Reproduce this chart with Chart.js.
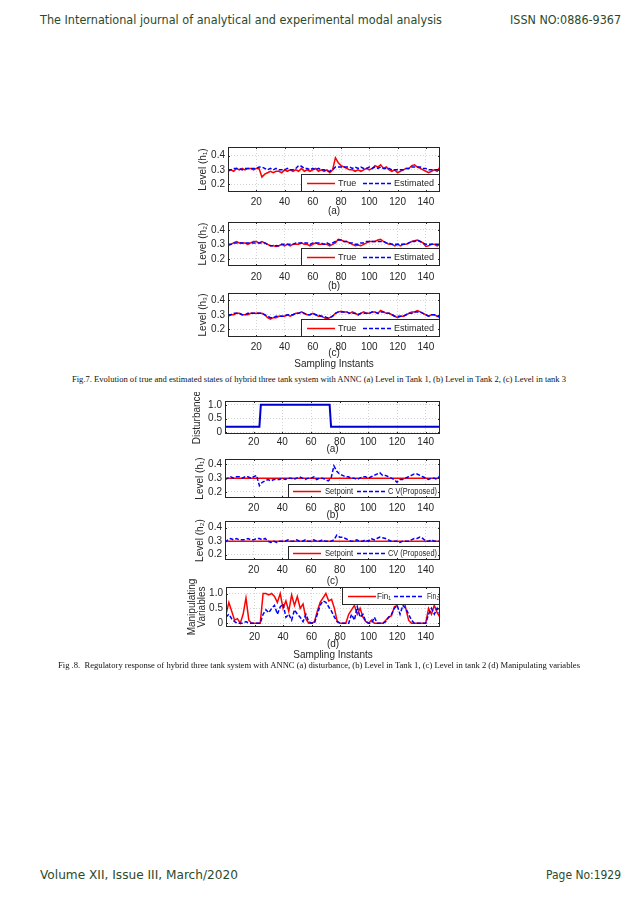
<!DOCTYPE html>
<html>
<head>
<meta charset="utf-8">
<script src="https://cdn.jsdelivr.net/npm/chart.js@4.4.0/dist/chart.umd.min.js"></script>
<style>
  body { margin: 0; background: #fff; }
  #page { position: relative; width: 638px; height: 902px; overflow: hidden; background: #fff; }
  .hdr { position: absolute; font-family: "DejaVu Sans", "Liberation Sans", sans-serif; font-size: 11.5px; color: #2b4a2b; white-space: nowrap; line-height: 1; transform-origin: 0 50%; }
  .cap { position: absolute; font-family: "Liberation Serif", "Times New Roman", serif; font-size: 9px; color: #111; white-space: nowrap; line-height: 1; transform-origin: 0 50%; }
  canvas { position: absolute; left: 150px; }
</style>
</head>
<body>
<div id="page">
  <div class="hdr" data-w="402" style="left:40px;top:15px">The International journal of analytical and experimental modal analysis</div>
  <div class="hdr" data-w="111" style="left:510px;top:15px">ISSN NO:0886-9367</div>

  <canvas id="f7a" width="300" height="80"></canvas>
  <canvas id="f7b" width="300" height="80"></canvas>
  <canvas id="f7c" width="300" height="90"></canvas>
  <div class="cap" data-w="494" style="left:72px;top:375px">Fig.7. Evolution of true and estimated states of hybrid three tank system with ANNC (a) Level in Tank 1, (b) Level in Tank 2, (c) Level in tank 3</div>

  <canvas id="f8a" width="300" height="70"></canvas>
  <canvas id="f8b" width="300" height="80"></canvas>
  <canvas id="f8c" width="300" height="80"></canvas>
  <canvas id="f8d" width="300" height="90"></canvas>
  <div class="cap" data-w="522" style="left:58px;top:661px">Fig .8.&nbsp; Regulatory response of hybrid three tank system with ANNC (a) disturbance, (b) Level in Tank 1, (c) Level in tank 2 (d) Manipulating variables</div>

  <div class="hdr" data-w="198" style="left:40px;top:870px">Volume XII, Issue III, March/2020</div>
  <div class="hdr" data-w="75" style="left:546px;top:870px">Page No:1929</div>
</div>
<script>
// sampling instants (every second sample)
var instants = [0,2,4,6,8,10,12,14,16,18,20,22,24,26,28,30,32,34,36,38,40,42,44,46,48,50,52,54,56,58,
  60,62,64,66,68,70,72,74,76,78,80,82,84,86,88,90,92,94,96,98,100,102,104,106,108,110,112,114,116,118,
  120,122,124,126,128,130,132,134,136,138,140,142,144,146,148,150];
var xTicks = [20,40,60,80,100,120,140];
var levelTicks = [0.2,0.3,0.4];
var unitTicks = [0,0.5,1];

// Fig.7 true / estimated levels
var h1True = [0.29,0.30,0.29,0.31,0.30,0.31,0.30,0.31,0.31,0.30,
  0.31,0.31,0.25,0.27,0.28,0.29,0.28,0.29,0.29,0.28,
  0.30,0.29,0.30,0.29,0.30,0.29,0.31,0.29,0.30,0.29,
  0.30,0.31,0.29,0.30,0.29,0.30,0.28,0.30,0.385,0.35,
  0.33,0.32,0.31,0.30,0.30,0.29,0.30,0.29,0.30,0.31,
  0.30,0.31,0.33,0.32,0.335,0.31,0.32,0.30,0.29,0.30,
  0.28,0.29,0.30,0.31,0.31,0.33,0.335,0.32,0.31,0.30,
  0.29,0.28,0.29,0.30,0.29,0.32];
var h1Est = [0.30,0.30,0.31,0.31,0.31,0.30,0.31,0.31,0.31,0.31,
  0.31,0.32,0.32,0.31,0.30,0.31,0.30,0.31,0.30,0.30,
  0.30,0.31,0.30,0.30,0.31,0.33,0.325,0.31,0.31,0.30,
  0.31,0.30,0.31,0.30,0.30,0.29,0.29,0.30,0.32,0.32,
  0.32,0.32,0.32,0.32,0.31,0.32,0.31,0.32,0.31,0.31,
  0.32,0.31,0.32,0.31,0.32,0.31,0.31,0.31,0.30,0.30,
  0.30,0.30,0.30,0.31,0.31,0.32,0.32,0.32,0.32,0.31,
  0.31,0.30,0.30,0.30,0.30,0.30];
var h2True = [0.29,0.30,0.31,0.32,0.31,0.31,0.31,0.30,0.31,0.32,
  0.32,0.31,0.32,0.31,0.30,0.29,0.29,0.285,0.29,0.30,
  0.29,0.30,0.29,0.30,0.30,0.30,0.31,0.30,0.30,0.29,
  0.30,0.31,0.30,0.30,0.30,0.30,0.29,0.30,0.31,0.335,
  0.33,0.32,0.32,0.31,0.30,0.29,0.295,0.29,0.30,0.31,
  0.32,0.32,0.32,0.33,0.335,0.32,0.31,0.30,0.30,0.29,
  0.30,0.29,0.30,0.30,0.31,0.32,0.325,0.33,0.32,0.31,
  0.285,0.29,0.30,0.30,0.29,0.30];
var h2Est = [0.30,0.30,0.31,0.31,0.31,0.31,0.31,0.31,0.31,0.31,
  0.31,0.31,0.31,0.31,0.30,0.29,0.29,0.29,0.29,0.30,
  0.30,0.30,0.30,0.30,0.31,0.31,0.31,0.31,0.31,0.30,
  0.31,0.31,0.31,0.31,0.30,0.31,0.30,0.31,0.32,0.33,
  0.33,0.32,0.32,0.31,0.31,0.30,0.30,0.31,0.31,0.32,
  0.32,0.32,0.32,0.32,0.32,0.32,0.31,0.31,0.30,0.30,
  0.30,0.30,0.30,0.30,0.31,0.32,0.32,0.33,0.32,0.31,
  0.30,0.30,0.30,0.30,0.30,0.30];
var h3True = [0.29,0.30,0.30,0.31,0.31,0.30,0.30,0.30,0.31,0.31,
  0.31,0.31,0.31,0.30,0.28,0.27,0.28,0.28,0.29,0.29,
  0.29,0.30,0.29,0.30,0.31,0.31,0.32,0.31,0.30,0.30,
  0.31,0.30,0.29,0.29,0.28,0.27,0.28,0.29,0.31,0.32,
  0.325,0.32,0.32,0.31,0.32,0.31,0.30,0.31,0.32,0.31,
  0.31,0.32,0.32,0.31,0.33,0.32,0.31,0.31,0.30,0.29,
  0.28,0.29,0.29,0.30,0.31,0.32,0.32,0.33,0.32,0.31,
  0.30,0.29,0.30,0.30,0.29,0.28];
var h3Est = [0.30,0.30,0.31,0.31,0.31,0.30,0.30,0.31,0.31,0.31,
  0.31,0.31,0.31,0.30,0.29,0.28,0.28,0.29,0.29,0.29,
  0.29,0.30,0.30,0.30,0.31,0.31,0.32,0.31,0.30,0.30,
  0.31,0.30,0.30,0.29,0.29,0.28,0.28,0.29,0.31,0.32,
  0.32,0.32,0.32,0.31,0.31,0.31,0.30,0.31,0.31,0.31,
  0.31,0.32,0.32,0.31,0.32,0.32,0.31,0.31,0.30,0.29,
  0.29,0.29,0.29,0.30,0.31,0.31,0.32,0.32,0.32,0.31,
  0.30,0.29,0.30,0.30,0.29,0.29];

// Fig.8 regulatory response
var distT = [0,24,25,73,74,150];
var distV = [0.2,0.2,1,1,0.2,0.2];
var spT = [0,150];
var spV = [0.3,0.3];
var cvH1 = [0.29,0.30,0.31,0.30,0.31,0.31,0.30,0.31,0.31,0.30,
  0.31,0.32,0.245,0.27,0.28,0.29,0.28,0.29,0.29,0.29,
  0.30,0.29,0.30,0.30,0.29,0.30,0.31,0.30,0.29,0.30,
  0.30,0.31,0.29,0.30,0.30,0.29,0.28,0.30,0.39,0.35,
  0.33,0.32,0.31,0.31,0.30,0.30,0.29,0.30,0.31,0.31,
  0.30,0.31,0.32,0.33,0.34,0.32,0.32,0.31,0.30,0.29,
  0.27,0.29,0.29,0.30,0.31,0.32,0.33,0.33,0.32,0.31,
  0.30,0.29,0.30,0.30,0.29,0.32];
var cvH2 = [0.29,0.31,0.32,0.31,0.32,0.31,0.31,0.31,0.32,0.31,
  0.31,0.32,0.32,0.31,0.32,0.30,0.29,0.30,0.29,0.30,
  0.30,0.30,0.31,0.30,0.30,0.31,0.30,0.30,0.31,0.30,
  0.30,0.31,0.30,0.30,0.31,0.30,0.30,0.30,0.31,0.345,
  0.33,0.33,0.32,0.31,0.30,0.30,0.31,0.30,0.30,0.31,
  0.30,0.32,0.31,0.32,0.33,0.325,0.32,0.31,0.30,0.30,
  0.30,0.29,0.30,0.30,0.30,0.31,0.32,0.32,0.33,0.32,
  0.30,0.30,0.31,0.30,0.30,0.30];
var fin1 = [0.30,0.70,0.40,0.10,0.15,0.00,0.30,0.85,0.10,0.00,
  0.00,0.00,0.00,1.00,1.00,0.95,1.00,0.90,0.70,1.00,
  0.50,0.75,0.40,0.95,0.60,0.90,0.50,0.65,0.15,0.00,
  0.00,0.05,0.40,0.70,0.85,1.00,0.75,0.80,0.50,0.05,
  0.00,0.00,0.00,0.30,0.45,0.60,0.30,0.50,0.20,0.05,
  0.00,0.10,0.00,0.00,0.00,0.00,0.10,0.20,0.25,0.55,
  0.60,0.95,0.95,0.50,0.10,0.00,0.00,0.00,0.00,0.00,
  0.00,0.50,0.30,0.60,0.35,0.20];
var fin2 = [0.20,0.30,0.15,0.05,0.00,0.00,0.00,0.05,0.00,0.00,
  0.00,0.00,0.00,0.30,0.45,0.35,0.50,0.60,0.30,0.55,
  0.65,0.20,0.30,0.10,0.45,0.30,0.20,0.05,0.30,0.05,
  0.00,0.00,0.30,0.60,0.75,0.70,0.55,0.40,0.20,0.05,
  0.00,0.00,0.00,0.00,0.30,0.10,0.55,0.20,0.30,0.05,
  0.00,0.00,0.20,0.00,0.00,0.00,0.05,0.20,0.30,0.50,
  0.60,0.30,0.60,0.50,0.30,0.10,0.00,0.00,0.00,0.00,
  0.00,0.30,0.50,0.30,0.50,0.30];

var RED = '#ff0000', BLUE = '#0000ff', INK = '#262626';
var FONT = '"Liberation Sans", Arial, sans-serif';
Chart.defaults.font.family = FONT;
Chart.defaults.font.size = 10;
Chart.defaults.color = INK;

// squeeze page texts to the widths they have in the scanned page
document.querySelectorAll('[data-w]').forEach(function (el) {
  var w = el.getBoundingClientRect().width;
  el.style.transform = 'scaleX(' + (parseFloat(el.dataset.w) / w) + ')';
});

function pts(xs, ys) { return xs.map(function (x, i) { return { x: x, y: ys[i] }; }); }

// legend box drawn inside the axes (MATLAB style)
var boxLegend = {
  id: 'boxLegend',
  afterDatasetsDraw: function (chart, args, o) {
    if (!o.items) return;
    var ctx = chart.ctx, a = chart.chartArea;
    var x = a.right - o.width, y = o.top ? a.top : a.bottom - o.height;
    ctx.save();
    ctx.fillStyle = '#fff';
    ctx.fillRect(x, y, o.width, o.height);
    ctx.strokeStyle = INK; ctx.lineWidth = 1;
    ctx.strokeRect(Math.round(x) + 0.5, Math.round(y) + 0.5, o.width - 1, o.height - 1);
    ctx.font = (o.size || 9) + 'px ' + FONT;
    ctx.textBaseline = 'middle';
    var cy = Math.round(y + o.height / 2) + 0.5;
    chart.data.datasets.forEach(function (ds, i) {
      var it = o.items[i];
      ctx.strokeStyle = ds.borderColor; ctx.lineWidth = ds.borderWidth;
      ctx.setLineDash(ds.borderDash || []);
      ctx.beginPath(); ctx.moveTo(x + it.line, cy); ctx.lineTo(x + it.line + 28, cy); ctx.stroke();
      ctx.setLineDash([]);
      ctx.fillStyle = INK;
      ctx.fillText(ds.label, x + it.text, cy, it.max);
    });
    ctx.restore();
  }
};

// axes box with inward tick marks
var frame = {
  id: 'frame',
  afterDraw: function (chart) {
    var ctx = chart.ctx, a = chart.chartArea, sx = chart.scales.x, sy = chart.scales.y;
    ctx.save();
    ctx.strokeStyle = INK; ctx.lineWidth = 1;
    ctx.strokeRect(Math.round(a.left) + 0.5, Math.round(a.top) + 0.5, Math.round(a.width) - 1, Math.round(a.height) - 1);
    ctx.beginPath();
    sx.ticks.forEach(function (t) {
      var p = Math.round(sx.getPixelForValue(t.value)) + 0.5;
      ctx.moveTo(p, a.top); ctx.lineTo(p, a.top + 2);
      ctx.moveTo(p, a.bottom); ctx.lineTo(p, a.bottom - 2);
    });
    sy.ticks.forEach(function (t) {
      var p = Math.round(sy.getPixelForValue(t.value)) + 0.5;
      ctx.moveTo(a.left, p); ctx.lineTo(a.left + 2, p);
      ctx.moveTo(a.right, p); ctx.lineTo(a.right - 2, p);
    });
    ctx.stroke();
    ctx.restore();
  }
};

function plot(id, p) {
  var cv = document.getElementById(id);
  var padTop = 8;
  cv.style.top = (p.top - padTop) + 'px';
  cv.height = padTop + p.h + p.xH + 2;
  return new Chart(cv, {
    type: 'line',
    data: { datasets: p.datasets },
    options: {
      responsive: false,
      animation: false,
      devicePixelRatio: 1,
      layout: { padding: { top: padTop, right: 10, left: 0, bottom: 2 } },
      elements: { point: { radius: 0 }, line: { tension: 0 } },
      plugins: { legend: { display: false }, tooltip: { enabled: false }, boxLegend: p.legend || {} },
      scales: {
        x: {
          type: 'linear', min: 0, max: 150,
          afterBuildTicks: function (s) { s.ticks = xTicks.map(function (v) { return { value: v }; }); },
          afterFit: function (s) { s.height = p.xH; },
          ticks: { padding: p.xPad, maxRotation: 0, font: { size: 10 } },
          grid: { color: '#d4d4d4', drawTicks: false },
          border: { display: false, dash: [1, 2] },
          title: { display: true, text: p.xTitle, padding: 0, font: { size: 10, lineHeight: 1.1 } }
        },
        y: {
          min: p.yMin, max: p.yMax,
          afterBuildTicks: function (s) { s.ticks = p.yTicks.map(function (v) { return { value: v }; }); },
          afterFit: function (s) { s.width = p.left - 150; },
          ticks: { padding: 3, font: { size: 10 } },
          grid: { color: '#d4d4d4', drawTicks: false },
          border: { display: false, dash: [1, 2] },
          title: { display: true, text: p.yTitle, padding: { top: p.yTitlePad, bottom: 0 }, font: { size: 10, lineHeight: p.yLh || 1.2 } }
        }
      }
    },
    plugins: [boxLegend, frame]
  });
}

function redLine(label, xs, ys) {
  return { label: label, data: pts(xs, ys), borderColor: RED, borderWidth: 1.5, order: 1 };
}
function blueDash(label, xs, ys) {
  return { label: label, data: pts(xs, ys), borderColor: BLUE, borderWidth: 1.5, borderDash: [4, 2], order: 0 };
}

var legTE = { width: 139, height: 18, items: [{ line: 6, text: 37, max: 22 }, { line: 62, text: 93, max: 42 }] };
var legSP = { width: 152, height: 14, size: 8.5, items: [{ line: 5, text: 37, max: 28 }, { line: 69, text: 100, max: 49 }] };

plot('f7a', { top: 146, h: 46, left: 228, xH: 25, xPad: 4, xTitle: '(a)',
  yMin: 0.145, yMax: 0.46, yTicks: levelTicks, yTitle: 'Level (h\u2081)', yTitlePad: 47,
  datasets: [redLine('True', instants, h1True), blueDash('Estimated', instants, h1Est)], legend: legTE });
plot('f7b', { top: 221, h: 45, left: 228, xH: 26, xPad: 5, xTitle: '(b)',
  yMin: 0.15, yMax: 0.455, yTicks: levelTicks, yTitle: 'Level (h\u2082)', yTitlePad: 47,
  datasets: [redLine('True', instants, h2True), blueDash('Estimated', instants, h2Est)], legend: legTE });
plot('f7c', { top: 292, h: 45, left: 228, xH: 33, xPad: 4, xTitle: ['(c)', 'Sampling Instants'],
  yMin: 0.145, yMax: 0.452, yTicks: levelTicks, yTitle: 'Level (h\u2083)', yTitlePad: 47,
  datasets: [redLine('True', instants, h3True), blueDash('Estimated', instants, h3Est)], legend: legTE });

plot('f8a', { top: 400, h: 34, left: 225, xH: 21, xPad: 2, xTitle: '(a)',
  yMin: -0.06, yMax: 1.14, yTicks: unitTicks, yTitle: 'Disturbance', yTitlePad: 41,
  datasets: [{ label: 'Disturbance', data: pts(distT, distV), borderColor: '#0000cc', borderWidth: 2 }] });
plot('f8b', { top: 458, h: 40, left: 225, xH: 23, xPad: 4, xTitle: '(b)',
  yMin: 0.155, yMax: 0.44, yTicks: levelTicks, yTitle: 'Level (h\u2081)', yTitlePad: 44,
  datasets: [redLine('Setpoint', spT, spV), blueDash('C V(Proposed)', instants, cvH1)], legend: legSP });
plot('f8c', { top: 520, h: 40, left: 225, xH: 27, xPad: 4, xTitle: '(c)',
  yMin: 0.16, yMax: 0.45, yTicks: levelTicks, yTitle: 'Level (h\u2082)', yTitlePad: 44,
  datasets: [redLine('Setpoint', spT, spV), blueDash('CV (Proposed)', instants, cvH2)], legend: legSP });
plot('f8d', { top: 586, h: 41, left: 226, xH: 34, xPad: 4, xTitle: ['(d)', 'Sampling Instants'],
  yMin: -0.13, yMax: 1.22, yTicks: unitTicks, yTitle: ['Manipulating', 'Variables'], yTitlePad: 37, yLh: 1.0,
  datasets: [redLine('Fin\u2081', instants, fin1), blueDash('Fin\u2082', instants, fin2)],
  legend: { top: true, width: 98, height: 18, items: [{ line: 6, text: 35, max: 14 }, { line: 52, text: 85, max: 12 }] } });
</script>
</body>
</html>
